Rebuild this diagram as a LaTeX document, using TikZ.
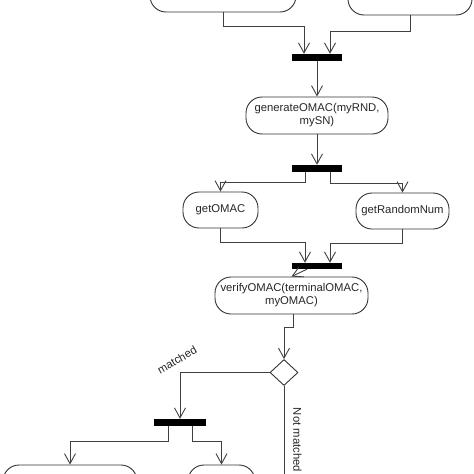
\documentclass[tikz,border=0pt]{standalone}
\usepackage{fontspec}
\setmainfont{Liberation Sans}
\usetikzlibrary{arrows.meta,shapes.geometric,calc}
\begin{document}
\begin{tikzpicture}[x=1pt,y=-1pt,
  act/.style={draw=black!80,line width=0.9pt,rounded corners=16pt,inner sep=0pt,align=center,text=black!85,
    font=\fontsize{11.3}{13}\selectfont},
  bar/.style={fill=black,draw=none,minimum width=50pt,minimum height=7pt,inner sep=0pt},
  dec/.style={draw=black!80,line width=0.9pt,shape=diamond,minimum width=28pt,minimum height=26pt,inner sep=0pt},
  arr/.style={draw=black!75,line width=0.9pt,-{Straight Barb[length=10pt,width=11pt,line width=0.9pt]}},
  ln/.style={draw=black!75,line width=0.9pt},
  lbl/.style={text=black!85,font=\fontsize{11.3}{13}\selectfont,inner sep=0pt}]
\useasboundingbox (0,0) rectangle (474,474);
\clip (0,0) rectangle (474,474);
% nodes
\node[act,minimum width=146pt,minimum height=38pt] (top1) at (223,-7) {};
\node[act,minimum width=124pt,minimum height=38pt] (top2) at (410,-4) {};
\node[bar] (bar1) at (317,57.5) {};
\node[act,minimum width=142pt,minimum height=37pt] (gen) at (317,115.5) {generateOMAC(myRND,\\mySN)};
\node[bar] (bar2) at (317,168.5) {};
\node[act,minimum width=75pt,minimum height=36pt] (gom) at (220.5,210) {getOMAC};
\node[act,minimum width=93pt,minimum height=36pt] (grn) at (402.5,211) {getRandomNum};
\node[bar,minimum height=6pt] (bar3) at (317,266) {};
\node[act,minimum width=153pt,minimum height=37pt] (ver) at (291.5,295.5) {verifyOMAC(terminalOMAC,\\myOMAC)};
\node[dec] (dia) at (284,372.5) {};
\node[bar,minimum width=52pt] (bar4) at (180,422.5) {};
\node[act,minimum width=134pt,minimum height=37pt] (bl) at (70,483.5) {};
\node[act,minimum width=67pt,minimum height=37pt] (br) at (221.5,483.5) {};
\coordinate (nmEnd) at (284,500);
% connectors
\draw[arr] (top1.south) -- ++(0,14) -| ([xshift=-13pt]bar1.north);
\draw[arr] (top2.south) -- ++(0,16) -| ([xshift=13pt]bar1.north);
\draw[arr] (bar1.south) -- (gen.north);
\draw[arr] (gen.south) -- (bar2.north);
\draw[arr] ([xshift=-12pt]bar2.south) -- ++(0,10) -| (gom.north);
\draw[arr] ([xshift=13pt]bar2.south) -- ++(0,11) -| (grn.north);
\draw[arr] (gom.south) -- ++(0,14) -| ([xshift=-12pt]bar3.north);
\draw[arr] (grn.south) -- ++(0,14) -| ([xshift=13pt]bar3.north);
\draw[arr] ([xshift=-10pt]bar3.south) -- (ver.north);
\draw[arr] ([xshift=1.5pt]ver.south) -- ++(0,13) -| (dia.north);
\draw[arr] (dia.west) -| (bar4.north);
\draw[arr] ([xshift=-12pt]bar4.south) -- ++(0,15) -| (bl.north);
\draw[arr] ([xshift=12pt]bar4.south) -- ++(0,15) -| (br.north);
\draw[ln] (dia.south) -- (nmEnd);
% labels
\node[lbl,rotate=30] (lm) at (177,360) {matched};
\node[lbl,rotate=-90] (lnm) at (297.5,440) {Not matched};
\end{tikzpicture}
\end{document}
